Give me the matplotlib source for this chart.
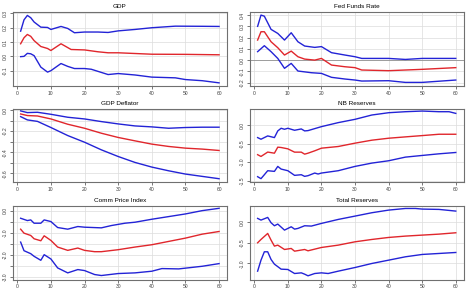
import matplotlib
matplotlib.use("Agg")
import matplotlib.pyplot as plt
import numpy as np

plt.rcParams['font.family'] = ['Liberation Sans', 'DejaVu Sans']

# ---- GDP
gdp_t_hi = [1, 2, 3, 4, 5, 7, 9, 10, 13, 15, 17, 20, 24, 27, 30, 35, 40, 47, 55, 60]
gdp_hi = [0.176, 0.255, 0.286, 0.270, 0.240, 0.204, 0.202, 0.188, 0.209, 0.195, 0.165, 0.170, 0.170, 0.167, 0.178, 0.188, 0.200, 0.211, 0.210, 0.209]
gdp_t_md = [1, 2, 3, 4, 5, 7, 9, 10, 13, 16, 20, 24, 27, 30, 35, 40, 50, 60]
gdp_md = [0.088, 0.130, 0.153, 0.140, 0.110, 0.069, 0.055, 0.041, 0.088, 0.048, 0.045, 0.032, 0.025, 0.025, 0.020, 0.015, 0.014, 0.011]
gdp_t_lo = [1, 2, 3, 4, 5, 7, 9, 10, 13, 15, 17, 20, 22, 27, 30, 35, 40, 47, 50, 55, 60]
gdp_lo = [-0.002, 0.000, 0.021, 0.018, 0.005, -0.075, -0.110, -0.100, -0.050, -0.070, -0.085, -0.085, -0.090, -0.127, -0.120, -0.130, -0.145, -0.150, -0.162, -0.170, -0.185]

# ---- Fed Funds Rate
ff_t_hi = [1, 2, 3, 5, 7, 9, 11, 13, 15, 18, 20, 23, 27, 30, 32, 40, 45, 50, 60]
ff_hi = [0.300, 0.400, 0.390, 0.273, 0.237, 0.178, 0.243, 0.163, 0.125, 0.113, 0.120, 0.066, 0.045, 0.030, 0.015, 0.015, 0.006, 0.015, 0.015]
ff_t_md = [1, 2, 3, 5, 7, 9, 11, 13, 15, 18, 20, 23, 27, 30, 32, 40, 45, 50, 60]
ff_md = [0.178, 0.252, 0.252, 0.163, 0.110, 0.045, 0.080, 0.030, 0.009, 0.000, 0.015, -0.044, -0.059, -0.067, -0.088, -0.094, -0.088, -0.082, -0.067]
ff_t_lo = [1, 3, 5, 7, 9, 11, 13, 17, 20, 23, 27, 30, 32, 40, 45, 50, 60]
ff_lo = [0.075, 0.128, 0.075, 0.015, -0.073, -0.029, -0.097, -0.112, -0.118, -0.153, -0.168, -0.177, -0.186, -0.183, -0.198, -0.198, -0.177]

# ---- GDP Deflator
gd_t = [1, 3, 6, 10, 15, 20, 25, 30, 35, 40, 45, 50, 55, 60]
gd_hi = [-0.009, -0.025, -0.022, -0.041, -0.069, -0.085, -0.110, -0.132, -0.151, -0.160, -0.173, -0.166, -0.163, -0.163]
gd_md = [-0.038, -0.053, -0.057, -0.085, -0.135, -0.173, -0.220, -0.260, -0.292, -0.323, -0.345, -0.361, -0.370, -0.383]
gd_lo = [-0.063, -0.094, -0.108, -0.166, -0.242, -0.305, -0.377, -0.440, -0.496, -0.540, -0.575, -0.606, -0.628, -0.650]

# ---- NB Reserves
nb_t_hi = [1, 2, 4, 6, 7, 8, 9, 10, 12, 14, 15, 16, 20, 25, 30, 35, 40, 45, 50, 55, 58, 60]
nb_hi = [-0.340, -0.384, -0.295, -0.340, -0.160, -0.089, -0.116, -0.089, -0.143, -0.107, -0.160, -0.152, -0.045, 0.063, 0.152, 0.268, 0.330, 0.357, 0.375, 0.357, 0.357, 0.312]
nb_t_md = [1, 2, 4, 6, 7, 8, 10, 12, 14, 15, 16, 18, 20, 25, 30, 35, 40, 45, 50, 55, 60]
nb_md = [-0.800, -0.848, -0.730, -0.760, -0.598, -0.607, -0.643, -0.732, -0.732, -0.786, -0.760, -0.696, -0.625, -0.580, -0.490, -0.410, -0.357, -0.321, -0.286, -0.250, -0.250]
nb_t_lo = [1, 2, 3, 4, 6, 7, 8, 10, 12, 14, 15, 16, 18, 19, 20, 25, 30, 35, 40, 45, 50, 55, 60]
nb_lo = [-1.393, -1.446, -1.340, -1.232, -1.250, -1.116, -1.188, -1.232, -1.357, -1.340, -1.384, -1.366, -1.295, -1.321, -1.295, -1.232, -1.116, -1.027, -0.964, -0.866, -0.821, -0.777, -0.741]

# ---- Comm Price Index
cp_t_hi = [1, 3, 4, 5, 7, 8, 10, 12, 15, 18, 20, 25, 28, 32, 35, 40, 45, 50, 55, 60]
cp_hi = [-0.345, -0.450, -0.420, -0.570, -0.570, -0.420, -0.495, -0.765, -0.840, -0.720, -0.750, -0.780, -0.675, -0.570, -0.525, -0.390, -0.270, -0.150, 0.000, 0.105]
cp_t_md = [1, 2, 4, 5, 7, 8, 10, 12, 15, 18, 20, 23, 25, 30, 35, 40, 45, 50, 55, 60]
cp_md = [-0.840, -1.020, -1.125, -1.275, -1.365, -1.140, -1.350, -1.650, -1.800, -1.695, -1.800, -1.860, -1.860, -1.770, -1.650, -1.545, -1.395, -1.245, -1.065, -0.945]
cp_t_lo = [1, 2, 4, 5, 7, 8, 10, 12, 15, 18, 20, 23, 25, 30, 35, 40, 43, 48, 55, 60]
cp_lo = [-1.425, -1.815, -1.950, -2.070, -2.250, -1.995, -2.190, -2.595, -2.820, -2.670, -2.715, -2.895, -2.940, -2.850, -2.820, -2.745, -2.625, -2.640, -2.520, -2.400]

# ---- Total Reserves
tr_t_hi = [1, 2, 4, 5, 6, 7, 9, 11, 12, 13, 15, 17, 20, 25, 30, 35, 40, 45, 48, 50, 55, 60]
tr_hi = [0.098, 0.057, 0.122, -0.008, -0.081, -0.040, -0.187, -0.106, -0.163, -0.146, -0.081, -0.089, -0.024, 0.073, 0.154, 0.236, 0.300, 0.340, 0.340, 0.325, 0.317, 0.276]
tr_t_md = [1, 2, 4, 5, 6, 7, 9, 11, 12, 15, 16, 20, 25, 30, 35, 40, 45, 50, 55, 60]
tr_md = [-0.496, -0.415, -0.268, -0.431, -0.577, -0.553, -0.659, -0.634, -0.700, -0.659, -0.691, -0.610, -0.553, -0.472, -0.415, -0.366, -0.333, -0.309, -0.285, -0.252]
tr_t_lo = [1, 2, 3, 4, 5, 6, 8, 10, 12, 14, 15, 16, 18, 20, 22, 25, 30, 35, 40, 45, 50, 55, 60]
tr_lo = [-1.187, -0.919, -0.715, -0.715, -0.902, -1.016, -1.138, -1.146, -1.244, -1.228, -1.260, -1.300, -1.244, -1.228, -1.244, -1.187, -1.098, -1.000, -0.919, -0.837, -0.780, -0.756, -0.732]

titles = ["GDP", "Fed Funds Rate", "GDP Deflator", "NB Reserves", "Comm Price Index", "Total Reserves"]
x_ticks = [0, 10, 20, 30, 40, 50, 60]

BLUE = "#2323d6"
RED = "#e0262c"

fig = plt.figure(figsize=(4.74, 2.91), dpi=100)

# axes boxes in pixels: (left, top, right, bottom)
col_x = [(12.7, 227.0), (249.7, 463.7)]
row_y = [(11.7, 86.0), (109.0, 182.0), (206.0, 279.5)]

panels = [
    (gdp_t_hi, gdp_hi, gdp_t_md, gdp_md, gdp_t_lo, gdp_lo, (-0.207, 0.312),
     [-0.1, 0.0, 0.1, 0.2, 0.3], ["-0.1", "0.0", "0.1", "0.2", "0.3"], False),
    (ff_t_hi, ff_hi, ff_t_md, ff_md, ff_t_lo, ff_lo, (-0.23, 0.43),
     [-0.2, -0.1, 0.0, 0.1, 0.2, 0.3, 0.4], ["-0.2", "-0.1", "0.0", "0.1", "0.2", "0.3", "0.4"], True),
    (gd_t, gd_hi, gd_t, gd_md, gd_t, gd_lo, (-0.681, 0.009),
     [-0.6, -0.5, -0.4, -0.3, -0.2, -0.1, 0.0], ["-0.6", "", "-0.4", "", "-0.2", "", "0.0"], False),
    (nb_t_hi, nb_hi, nb_t_md, nb_md, nb_t_lo, nb_lo, (-1.536, 0.43),
     [-1.5, -1.0, -0.5, 0.0], ["-1.5", "-1.0", "-0.5", "0.0"], False),
    (cp_t_hi, cp_hi, cp_t_md, cp_md, cp_t_lo, cp_lo, (-3.12, 0.21),
     [-3.0, -2.5, -2.0, -1.5, -1.0, -0.5, 0.0], ["-3.0", "", "-2.0", "", "-1.0", "", "0.0"], False),
    (tr_t_hi, tr_hi, tr_t_md, tr_md, tr_t_lo, tr_lo, (-1.39, 0.40),
     [-1.0, -0.5, 0.0], ["-1.0", "-0.5", "0.0"], False),
]

W, H = 474.0, 291.0
for i, p in enumerate(panels):
    r, c = divmod(i, 2)
    x0, x1 = col_x[c]
    y0, y1 = row_y[r]
    ax = fig.add_axes([x0 / W, 1 - y1 / H, (x1 - x0) / W, (y1 - y0) / H])
    th, hi, tm, md, tl, lo, ylim, yt, ytl, zero = p

    ax.set_xlim(-1.36, 62.36)
    ax.set_ylim(*ylim)
    ax.set_xticks(x_ticks)
    ax.set_xticklabels([str(v) for v in x_ticks], fontsize=3.6)
    ax.set_yticks(yt)
    ax.set_yticklabels(ytl, fontsize=3.6, rotation=90, va="center")
    ax.grid(True, color="#dcdcdc", linewidth=0.5)
    ax.set_axisbelow(True)
    if zero:
        ax.axhline(0, color="#909090", linewidth=0.6, zorder=1)

    ax.plot(th, hi, color=BLUE, linewidth=1.0)
    ax.plot(tm, md, color=RED, linewidth=1.0)
    ax.plot(tl, lo, color=BLUE, linewidth=1.0)

    for s in ax.spines.values():
        s.set_color("#707070")
        s.set_linewidth(0.8)
    ax.tick_params(length=2.2, width=0.5, pad=1.2, colors="#404040")
    ax.set_title(titles[i], fontsize=4.6, pad=3)

fig.savefig("out.png", dpi=100)
